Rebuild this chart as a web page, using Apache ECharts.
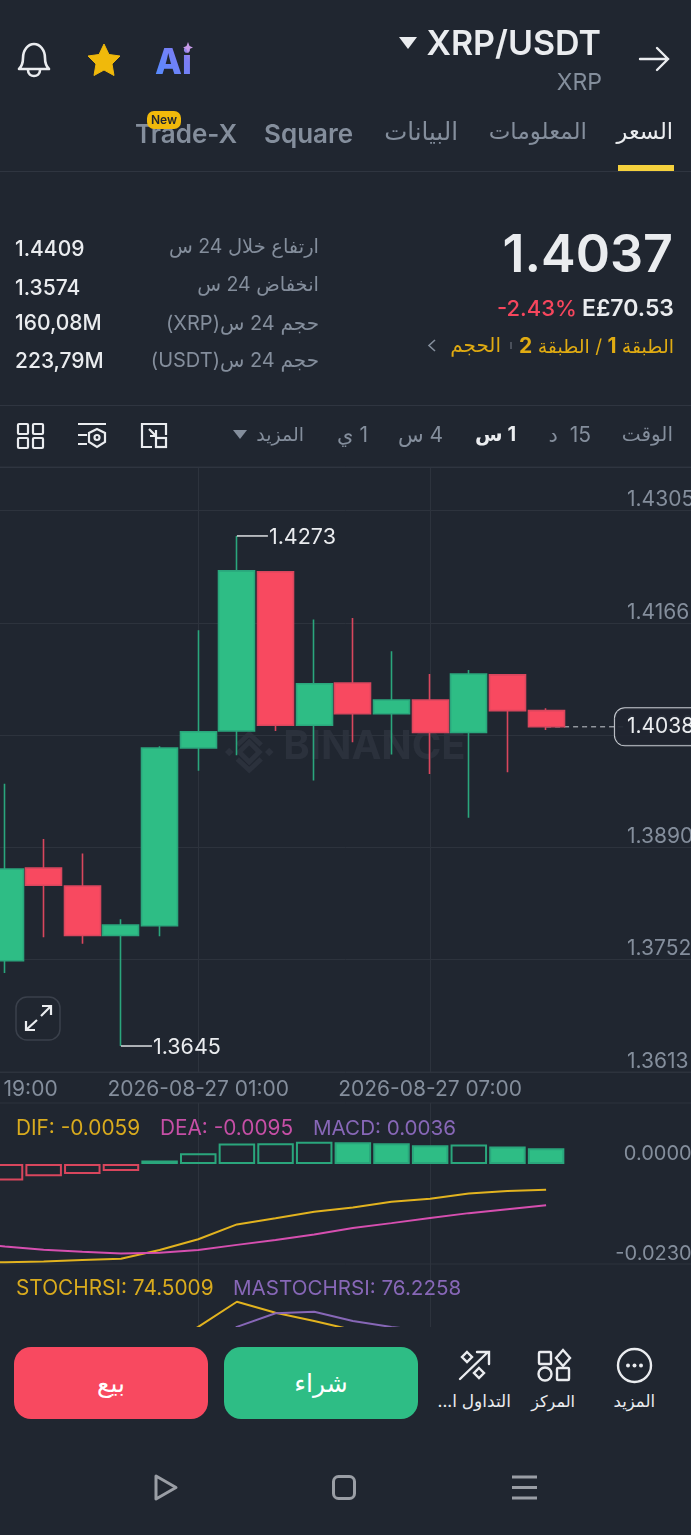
<!DOCTYPE html>
<html lang="ar"><head><meta charset="utf-8">
<script src="https://cdn.jsdelivr.net/npm/echarts@6/dist/echarts.min.js"></script>
<style>
html,body{margin:0;padding:0;background:#202630;width:691px;height:1535px;overflow:hidden;font-family:Inter,"DejaVu Sans",sans-serif;}
#chart{position:absolute;left:0;top:0;width:691px;height:1535px;}
.t{position:absolute;white-space:nowrap;transform:translateY(-50%);line-height:1;}
.g{color:#848e9c}.w{color:#eaecef}
.hr{position:absolute;left:0;width:691px;height:1px;background:#2f3540}
svg{position:absolute;overflow:visible}
#foot{position:absolute;left:0;top:1327px;width:691px;height:208px;background:#202630}
.btn{position:absolute;top:1347px;width:194px;height:72px;border-radius:17px;color:#fff;font-size:25px;display:flex;align-items:center;justify-content:center}
</style></head><body>
<div id="chart"></div>

<!-- header -->
<svg style="left:17px;top:42px" width="34" height="36" viewBox="0 0 34 36" fill="none" stroke="#eaecef" stroke-width="2.6" stroke-linejoin="round" stroke-linecap="round"><path d="M2 27c3-3 4-6 4-11 0-8 5-14 11-14s11 6 11 14c0 5 1 8 4 11z"/><path d="M11 28c0 8 12 8 12 0"/></svg>
<svg style="left:87px;top:43px" width="34" height="33" viewBox="0 0 34 33"><path d="M17 1l5 10.500 11 1.500-8 8 2 11.500-10-5.500-10 5.500 2-11.500-8-8 11-1.500z" fill="#f0b90b" stroke="#f0b90b" stroke-linejoin="round"/></svg>
<svg style="left:155px;top:42px" width="40" height="36" viewBox="0 0 40 36"><defs><linearGradient id="ai" x1="0" y1="1" x2="1" y2="0"><stop offset="0" stop-color="#4f8dff"/><stop offset=".7" stop-color="#7d7df5"/><stop offset="1" stop-color="#d79ad8"/></linearGradient></defs><text x="0" y="32" font-family="Inter" font-weight="800" font-size="35" fill="url(#ai)">Ai</text><path d="M33 0l1.500 4 3.500 1.500-3.500 1.500-1.500 4-1.500-4-3.500-1.500 3.500-1.500z" fill="#c79be8"/></svg>
<svg style="left:399px;top:37px" width="18" height="12"><path d="M0 0h18l-9 12z" fill="#eaecef"/></svg>
<span class="t w" style="right:90px;top:43px;font-size:34px;font-weight:600;">XRP/USDT</span>
<span class="t g" style="right:89px;top:82px;font-size:23px;">XRP</span>
<svg style="left:639px;top:47px" width="30" height="24" fill="none" stroke="#eaecef" stroke-width="2.4" stroke-linecap="round"><path d="M1 12h28M18 1l11 11-11 11"/></svg>

<span class="t w" dir="rtl" style="right:18px;top:131px;font-size:22.500px">السعر</span>
<span class="t g" dir="rtl" style="right:104px;top:131px;font-size:23px">المعلومات</span>
<span class="t g" dir="rtl" style="right:233px;top:131px;font-size:24.500px">البيانات</span>
<span class="t g" style="left:264px;top:134px;font-size:26px;font-weight:600">Square</span>
<span class="t g" style="left:135px;top:134px;font-size:26px;font-weight:600">Trade-X</span>
<span class="t" style="left:147px;top:120px;width:34px;height:18px;border-radius:7px;background:#f0b90b;color:#202630;font-size:12px;font-weight:600;line-height:18px;text-align:center">New</span>
<div style="position:absolute;left:618px;top:165px;width:56px;height:6px;background:#f5d13d"></div>
<div class="hr" style="top:171px"></div>

<!-- stats -->
<span class="t w" style="left:15px;top:248px;font-size:21px;font-weight:500">1.4409</span>
<span class="t w" style="left:15px;top:287px;font-size:21px;font-weight:500">1.3574</span>
<span class="t w" style="left:15px;top:322px;font-size:21px;font-weight:500">160,08M</span>
<span class="t w" style="left:15px;top:360px;font-size:21px;font-weight:500">223,79M</span>
<span class="t g" dir="rtl" style="right:372px;top:247px;font-size:19.500px">ارتفاع خلال 24 س</span>
<span class="t g" dir="rtl" style="right:372px;top:285px;font-size:19.500px">انخفاض 24 س</span>
<span class="t g" dir="rtl" style="right:372px;top:323px;font-size:20px">حجم 24 س(XRP)</span>
<span class="t g" dir="rtl" style="right:372px;top:360px;font-size:20px">حجم 24 س(USDT)</span>
<span class="t w" style="right:18px;top:254px;font-size:52px;font-weight:600">1.4037</span>
<span class="t" style="left:497px;top:308px;font-size:22px;font-weight:500;color:#f6465d">-2.43%</span>
<span class="t w" style="right:17px;top:308px;font-size:23px;font-weight:600">E£70.53</span>
<span class="t" dir="rtl" style="right:17px;top:345px;font-size:19px;color:#e0ab12">الطبقة <b style="font-size:21px">1</b> / الطبقة <b style="font-size:21px">2</b></span>
<div style="position:absolute;left:510px;top:342px;width:1.500px;height:7px;background:#4a505b"></div>
<span class="t" dir="rtl" style="right:190px;top:345px;font-size:20px;color:#e0ab12">الحجم</span>
<svg style="left:428px;top:339px" width="8" height="13" fill="none" stroke="#848e9c" stroke-width="1.600"><path d="M7 1L1 6.500 7 12"/></svg>
<div class="hr" style="top:405px"></div>

<!-- toolbar -->
<span class="t g" dir="rtl" style="right:18px;top:434px;font-size:20px">الوقت</span>
<span class="t g" dir="rtl" style="right:100px;top:434px;font-size:21px;word-spacing:6px">15 د</span>
<span class="t w" dir="rtl" style="right:175px;top:434px;font-size:20px;font-weight:700">1 س</span>
<span class="t g" dir="rtl" style="right:248px;top:434px;font-size:21px">4 س</span>
<span class="t g" dir="rtl" style="right:323px;top:434px;font-size:21px">1 ي</span>
<span class="t g" dir="rtl" style="right:387px;top:434px;font-size:19px">المزيد</span>
<svg style="left:233px;top:430px" width="14" height="9"><path d="M0 0h14l-7 9z" fill="#848e9c"/></svg>
<svg style="left:141px;top:423px" width="27" height="26" fill="none" stroke="#eaecef" stroke-width="2.200"><path d="M11 24H1V1h24v11"/><rect x="15" y="15" width="10" height="9"/><path d="M8 6l7 7M15 7v6H9"/></svg>
<svg style="left:78px;top:423px" width="29" height="26" fill="none" stroke="#eaecef" stroke-width="2.200"><path d="M0 1h28M0 12h9M0 21h9"/><path d="M19 6l8 4v9l-8 5-8-5v-9z"/><circle cx="19" cy="14.500" r="2.500"/></svg>
<svg style="left:17px;top:423px" width="27" height="26" fill="none" stroke="#eaecef" stroke-width="2.200"><rect x="1" y="1" width="10" height="10" rx="1"/><rect x="16" y="1" width="10" height="10" rx="1"/><rect x="1" y="15" width="10" height="10" rx="1"/><rect x="16" y="15" width="10" height="10" rx="1"/></svg>
<div class="hr" style="top:467px"></div>

<!-- expand button -->
<svg style="left:15px;top:996px" width="46" height="45" fill="none"><rect x="1" y="1" width="44" height="43" rx="11" stroke="#3a404b" stroke-width="1.500"/><path d="M11 34L22 24M11 25v9h9M36 10L26 20M27 10h9v9" stroke="#eaecef" stroke-width="2.200"/></svg>

<!-- legends -->
<span class="t" style="left:16px;top:1128px;font-size:20.800px;color:#d9ab1e">DIF: -0.0059</span>
<span class="t" style="left:160px;top:1128px;font-size:20.800px;color:#c64fa6">DEA: -0.0095</span>
<span class="t" style="left:313px;top:1128px;font-size:20.600px;color:#8767b7">MACD: 0.0036</span>
<span class="t" style="left:16px;top:1288px;font-size:20.800px;color:#d9ab1e">STOCHRSI: 74.5009</span>
<span class="t" style="left:233px;top:1288px;font-size:20.600px;color:#8767b7">MASTOCHRSI: 76.2258</span>

<!-- footer -->
<div id="foot"></div>
<div class="btn" style="left:14px;background:#f84960">بيع</div>
<div class="btn" style="left:224px;background:#2ebd85">شراء</div>
<svg style="left:458px;top:1349px" width="34" height="33" fill="none" stroke="#eaecef" stroke-width="2.400" stroke-linecap="round"><path d="M2 30L30 3M19 3h12v12"/><path d="M9 3l5 5-5 5-5-5z"/><path d="M21 19l5 5-5 5-5-5z"/></svg>
<svg style="left:538px;top:1349px" width="34" height="33" fill="none" stroke="#eaecef" stroke-width="2.400"><rect x="1" y="3" width="12" height="12" rx="1"/><path d="M25 1l7 8-7 8-7-8z"/><circle cx="7" cy="25" r="6.500"/><rect x="19" y="19" width="12" height="12" rx="1"/></svg>
<svg style="left:617px;top:1348px" width="35" height="35" fill="none" stroke="#eaecef" stroke-width="2.400"><circle cx="17.500" cy="17.500" r="16.500"/><circle cx="11" cy="17.500" r="2" fill="#eaecef" stroke="none"/><circle cx="17.500" cy="17.500" r="2" fill="#eaecef" stroke="none"/><circle cx="24" cy="17.500" r="2" fill="#eaecef" stroke="none"/></svg>
<span class="t w" dir="rtl" style="right:180px;top:1401px;font-size:17px">التداول ا...</span>
<span class="t w" dir="rtl" style="right:116px;top:1401px;font-size:16px">المركز</span>
<span class="t w" dir="rtl" style="right:36px;top:1401px;font-size:16.500px">المزيد</span>
<svg style="left:154px;top:1474px" width="24" height="27" fill="none" stroke="#9a9ea5" stroke-width="3" stroke-linejoin="round"><path d="M2 2l20 11.500L2 25z"/></svg>
<svg style="left:332px;top:1475px" width="24" height="25" fill="none" stroke="#9a9ea5" stroke-width="3"><rect x="1.500" y="1.500" width="21" height="22" rx="5"/></svg>
<svg style="left:512px;top:1475px" width="25" height="25" fill="none" stroke="#9a9ea5" stroke-width="3"><path d="M0 2h25M0 12.500h25M0 23h25"/></svg>

<script>
// ---------- data ----------
const categories = ['2026-08-26 19:00','2026-08-26 20:00','2026-08-26 21:00','2026-08-26 22:00','2026-08-26 23:00','2026-08-27 00:00','2026-08-27 01:00','2026-08-27 02:00','2026-08-27 03:00','2026-08-27 04:00','2026-08-27 05:00','2026-08-27 06:00','2026-08-27 07:00','2026-08-27 08:00','2026-08-27 09:00','2026-08-27 10:00','2026-08-27 11:00','2026-08-27 12:00','2026-08-27 13:00','2026-08-27 14:00'];
// open, close, low, high
const candles = ['-',
 [1.3750,1.3863,1.3735,1.3968],[1.3864,1.3843,1.3779,1.3900],[1.3842,1.3781,1.3771,1.3882],
 [1.3781,1.3794,1.3645,1.3801],[1.3793,1.4012,1.3780,1.4014],[1.4012,1.4032,1.3984,1.4157],
 [1.4033,1.4230,1.4003,1.4273],[1.4229,1.4040,1.4033,1.4229],[1.4040,1.4091,1.3972,1.4170],
 [1.4092,1.4054,1.4019,1.4172],[1.4054,1.4071,1.4004,1.4131],[1.4071,1.4031,1.3980,1.4103],
 [1.4031,1.4103,1.3926,1.4108],[1.4102,1.4058,1.3982,1.4103],[1.4058,1.4038,1.4034,1.4061]];
const macdBars = [-0.0045,-0.0038,-0.0028,-0.0023,-0.0016,0.0008,0.0025,0.0047,0.0048,0.0051,0.0050,0.0048,0.0043,0.0045,0.0040,0.0036];
const dif = [-0.0228,-0.0226,-0.0224,-0.0221,-0.0218,-0.0198,-0.0173,-0.0139,-0.0125,-0.0110,-0.0100,-0.0087,-0.0080,-0.0068,-0.0062,-0.0059];
const dea = [-0.0178,-0.0190,-0.0197,-0.0202,-0.0206,-0.0204,-0.0198,-0.0186,-0.0175,-0.0162,-0.0147,-0.0136,-0.0124,-0.0113,-0.0104,-0.0095];
const stochRsi = [45,42,38,35,50,60,79.6,100,91.1,84.3,77,72,70,73,75,74.5];
const maStochRsi = [52,50,46,42,40,44,52,79.6,90.6,91.9,84.4,79.5,76,75,75,76.2258];
const priceTicks = [1.3613,1.3752,1.3890,1.4028,1.4166,1.4305];
const macdTicks = [-0.0230,0];
const lastPrice = 1.4038, highPrice = 1.4273, lowPrice = 1.3645;
const lastLine = ['-','-','-','-','-','-','-','-','-','-','-','-','-','-','-',lastPrice,lastPrice,lastPrice];

// ---------- drawing ----------
const UP='#2ebd85', DOWN='#f84960', UPB='#2aa67c', DOWNB='#d9465d';
const GRIDC='#2d333d', LABEL='#848e9c', FONT='Inter';
const xLeft=-33.65, xWidth=38.65*19;
function onGrid(i){return i%6===0 && i<=12;}
function xAxis(gi,label){return {
  type:'category',gridIndex:gi,data:categories,boundaryGap:false,
  axisLine:{show:false},axisTick:{show:false},
  axisLabel:{show:label,interval:(i)=>onGrid(i),color:LABEL,fontFamily:FONT,fontSize:21,margin:7,hideOverlap:false},
  splitLine:{show:true,interval:(i)=>onGrid(i),lineStyle:{color:GRIDC,width:1}}
};}
function lineS(data,color,xi){return {type:'line',xAxisIndex:xi,yAxisIndex:xi,data,symbol:'none',smooth:false,
  lineStyle:{color,width:2},z:4,silent:true,clip:true};}
function extreme(v,idx){return {coord:[idx,v],symbol:'rect',symbolSize:[31,1.4],symbolOffset:[15.5,0],
  itemStyle:{color:'#eaecef'},
  label:{show:true,position:'right',distance:1,offset:[0,1.5],formatter:v.toFixed(4),color:'#eaecef',fontFamily:FONT,fontSize:21.5}};}

const chart=echarts.init(document.getElementById('chart'),null,{renderer:'canvas'});
chart.setOption({
  animation:false,backgroundColor:'#202630',
  grid:[
    {left:xLeft,width:xWidth,top:467,height:605,outerBoundsMode:'none',show:true,borderColor:GRIDC,borderWidth:1,backgroundColor:'transparent'},
    {left:xLeft,width:xWidth,top:1103,height:161,outerBoundsMode:'none',show:true,borderColor:GRIDC,borderWidth:1,backgroundColor:'transparent'},
    {left:xLeft,width:xWidth,top:1264,height:161,outerBoundsMode:'none'}
  ],
  xAxis:[xAxis(0,true),xAxis(1,false),xAxis(2,false)],
  yAxis:[
    {type:'value',gridIndex:0,position:'right',min:1.3613,max:1.43579,scale:true,
     axisLine:{show:false},axisTick:{show:false,customValues:priceTicks},
     axisLabel:{inside:true,align:'left',verticalAlign:'bottom',margin:73.7,color:LABEL,fontFamily:FONT,fontSize:21,customValues:priceTicks,formatter:v=>v.toFixed(4)},
     splitLine:{show:true,lineStyle:{color:GRIDC,width:1}}},
    {type:'value',gridIndex:1,position:'right',min:-0.0230,max:0.01403,
     axisLine:{show:false},axisTick:{show:false,customValues:macdTicks},
     axisLabel:{inside:true,align:'right',verticalAlign:'bottom',margin:9,color:LABEL,fontFamily:FONT,fontSize:20,customValues:macdTicks,formatter:v=>v.toFixed(4)},
     splitLine:{show:false}},
    {type:'value',gridIndex:2,position:'right',min:0,max:130.6,
     axisLine:{show:false},axisTick:{show:false},axisLabel:{show:false},splitLine:{show:false}}
  ],
  graphic:[{type:'group',left:225,top:727,z:-1,silent:true,children:[
     {type:'polygon',shape:{points:[[23,9],[33,19],[23,29],[13,19]]},style:{fill:'none',stroke:'#2b313c',lineWidth:5}},
     {type:'rect',shape:{x:-3,y:-3,width:6,height:6},rotation:Math.PI/4,x:3,y:19,style:{fill:'#2b313c'}},
     {type:'rect',shape:{x:-3,y:-3,width:6,height:6},rotation:Math.PI/4,x:43,y:19,style:{fill:'#2b313c'}},
     {type:'polyline',shape:{points:[[11,26],[23,37],[35,26]]},style:{fill:'none',stroke:'#2b313c',lineWidth:5}},
     {type:'polyline',shape:{points:[[11,12],[23,1],[35,12]]},style:{fill:'none',stroke:'#2b313c',lineWidth:5}},
     {type:'text',x:57,y:-6,style:{text:'BINANCE',fill:'#2b313c',font:'700 40px Inter'}}
  ]}],
  series:[
    {type:'line',xAxisIndex:0,yAxisIndex:0,data:lastLine,symbol:'none',z:1,silent:true,lineStyle:{color:'#c8ccd2',width:1,type:[5,4]},
     markPoint:{silent:true,symbol:'rect',symbolSize:1,z:6,itemStyle:{color:'transparent'},data:[
       {coord:[17,lastPrice],label:{show:true,position:'right',distance:-9,formatter:lastPrice.toFixed(4),color:'#eaecef',fontFamily:FONT,fontSize:21,
        backgroundColor:'rgba(32,38,48,0.93)',borderColor:'#c8ccd2',borderWidth:1,borderRadius:10,padding:[8,30,8,12]}}
     ]}},
    {type:'candlestick',xAxisIndex:0,yAxisIndex:0,data:candles,barWidth:36.5,z:3,silent:true,
     itemStyle:{color:UP,color0:DOWN,borderColor:UPB,borderColor0:DOWNB,borderWidth:1.6,borderColorDoji:UPB},
     markPoint:{silent:true,z:6,data:[extreme(highPrice,7),extreme(lowPrice,4)]}},
    {type:'bar',xAxisIndex:1,yAxisIndex:1,barWidth:36.5,z:3,silent:true,
     data:macdBars.map((v,i)=>{
       const prev=macdBars[i-1], hollow=i===0||v>=prev, c=v>=0?UP:DOWN, b=v>=0?UPB:DOWNB;
       return {value:v,itemStyle:{color:hollow?'transparent':c,borderColor:b,borderWidth:2}};
     })},
    lineS(dif,'#e2b31f',1),lineS(dea,'#d64fb0',1),
    lineS(stochRsi,'#e2b31f',2),lineS(maStochRsi,'#8767b7',2)
  ]
});
</script>
</body></html>
